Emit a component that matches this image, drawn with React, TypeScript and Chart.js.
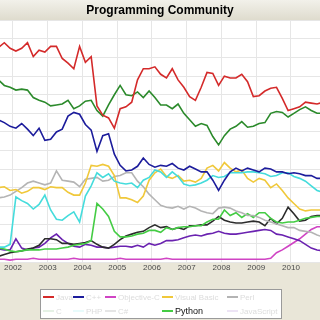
import React, { useEffect, useRef } from "react";
import { Chart, registerables } from "chart.js";

Chart.register(...registerables);

const dates = [
  "2001-08", "2001-10", "2001-12",
  "2002-02", "2002-04", "2002-06", "2002-08", "2002-10", "2002-12",
  "2003-02", "2003-04", "2003-06", "2003-08", "2003-10", "2003-12",
  "2004-02", "2004-04", "2004-06", "2004-08", "2004-10", "2004-12",
  "2005-02", "2005-04", "2005-06", "2005-08", "2005-10", "2005-12",
  "2006-02", "2006-04", "2006-06", "2006-08", "2006-10", "2006-12",
  "2007-02", "2007-04", "2007-06", "2007-08", "2007-10", "2007-12",
  "2008-02", "2008-04", "2008-06", "2008-08", "2008-10", "2008-12",
  "2009-02", "2009-04", "2009-06", "2009-08", "2009-10", "2009-12",
  "2010-02", "2010-04", "2010-06", "2010-08", "2010-10", "2010-12",
];

const years = [2002, 2003, 2004, 2005, 2006, 2007, 2008, 2009, 2010];

const java = [
  23.1, 23.6, 23.0, 22.7, 23.0, 23.6, 22.1, 22.8, 22.6,
  23.2, 23.2, 21.9, 21.4, 20.8, 23.2,
  21.5, 22.1, 16.8, 15.8, 15.5, 14.4,
  16.5, 16.7, 17.2, 19.6, 20.8, 20.8,
  21.0, 20.2, 19.8, 20.8, 19.6, 18.8,
  17.8, 17.4, 18.8, 20.4, 20.3, 19.0,
  20.0, 19.8, 19.8, 20.2, 19.4, 17.8,
  17.9, 18.4, 18.7, 18.8, 17.6, 16.3,
  16.5, 16.7, 17.2, 17.1, 17.0, 17.2,
];

const cLang = [
  19.6, 19.0, 18.8, 18.5, 18.6, 18.5, 17.7, 17.4, 17.2,
  16.8, 16.9, 17.0, 17.4, 16.5, 16.8,
  17.3, 17.4, 16.3, 15.7, 16.9, 18.0,
  19.0, 18.0, 17.9, 18.3, 17.7, 18.4,
  17.7, 16.9, 16.9, 16.5, 17.0, 16.0,
  15.3, 14.6, 14.9, 14.7, 13.5, 12.6,
  13.6, 14.3, 14.6, 15.1, 14.5, 14.6,
  14.9, 15.0, 16.0, 16.2, 16.1, 15.6,
  16.0, 16.4, 16.7, 16.3, 16.0, 16.0,
];

const cpp = [
  15.3, 15.0, 14.6, 14.4, 14.9, 14.3, 13.6, 14.4, 13.1,
  13.2, 14.0, 14.3, 15.7, 16.1, 15.9,
  14.8, 14.2, 11.9, 13.6, 13.8, 11.6,
  10.4, 9.8, 9.9, 10.3, 11.2, 10.5,
  10.2, 10.4, 10.3, 10.6, 10.1, 9.9,
  10.3, 10.0, 9.7, 9.7, 8.8, 7.7,
  8.8, 9.7, 10.1, 9.8, 10.1, 9.9,
  9.7, 10.1, 10.0, 9.7, 9.7, 9.5,
  9.6, 9.5, 9.3, 9.3, 9.0, 9.0,
];

const visualBasic = [
  8.0, 8.1, 7.7, 7.8, 7.4, 7.6, 8.0, 8.0, 7.8,
  8.1, 8.0, 8.0, 7.5, 7.2, 7.2,
  8.5, 10.4, 10.3, 10.5, 10.3, 9.3,
  6.9, 6.9, 6.7, 6.4, 7.1, 8.8,
  9.6, 10.0, 9.2, 9.0, 9.3, 8.7,
  8.8, 8.6, 9.0, 10.1, 10.4, 9.8,
  10.7, 10.1, 9.7, 9.9, 9.0, 8.6,
  9.0, 8.8, 8.0, 8.4, 7.7, 6.9,
  6.3, 5.7, 5.5, 5.6, 5.6, 5.6,
];

const perl = [
  6.9, 7.0, 7.2, 7.6, 8.0, 8.5, 8.7, 8.5, 8.3,
  8.5, 9.8, 8.8, 8.7, 8.6, 8.1,
  8.9, 9.0, 9.1, 8.7, 8.8, 9.2,
  9.3, 9.6, 9.6, 8.7, 8.1, 7.3,
  6.7, 6.1, 5.9, 5.8, 6.0, 5.7,
  6.0, 5.8, 5.5, 5.3, 5.2, 5.8,
  5.9, 5.8, 5.5, 5.3, 5.0, 5.0,
  4.8, 4.5, 4.3, 4.1, 3.9, 3.7,
  3.7, 3.4, 3.3, 3.2, 2.9, 2.7,
];

const php = [
  1.6, 1.6, 1.9, 7.0, 6.6, 6.3, 5.7, 6.2, 7.2,
  5.6, 4.6, 4.5, 5.0, 5.4, 4.3,
  7.1, 8.2, 9.6, 9.1, 9.5, 8.7,
  8.5, 8.4, 8.5, 8.0, 8.8, 9.1,
  9.9, 9.7, 9.1, 9.7, 9.2, 8.4,
  8.2, 8.3, 8.5, 8.8, 9.3, 9.1,
  9.2, 9.6, 9.6, 9.6, 9.7, 9.7,
  9.6, 9.5, 9.2, 9.3, 9.6, 9.6,
  9.2, 9.0, 8.7, 8.2, 7.7, 7.5,
];

const python = [
  1.5, 1.4, 1.2, 1.1, 1.2, 1.3, 1.3, 1.3, 1.4,
  1.4, 1.4, 1.5, 1.6, 1.8, 1.9,
  2.0, 2.3, 6.3, 5.7, 4.9, 3.3,
  2.7, 2.7, 2.8, 3.0, 3.1, 3.4,
  3.4, 3.2, 3.7, 3.5, 3.7, 3.8,
  3.8, 3.9, 3.9, 4.3, 4.6, 4.6,
  5.6, 5.0, 5.3, 4.8, 5.2, 4.8,
  5.3, 5.3, 4.7, 4.3, 4.2, 4.3,
  4.3, 4.5, 4.7, 4.8, 4.9, 4.9,
];

const csharp = [
  0.6, 0.8, 1.0, 1.1, 1.2, 1.4, 1.5, 1.8, 2.5,
  2.5, 2.4, 2.0, 2.0, 1.9, 2.0,
  2.1, 2.3, 1.9, 1.6, 1.5, 1.9,
  2.4, 2.8, 3.0, 3.2, 3.3, 3.7,
  4.0, 3.7, 3.8, 3.5, 3.7, 3.5,
  3.9, 3.9, 4.0, 4.0, 4.4, 4.9,
  4.5, 4.3, 4.2, 4.2, 4.3, 4.4,
  4.3, 3.9, 4.7, 4.1, 4.7, 5.9,
  5.2, 4.4, 4.5, 4.9, 5.0, 5.0,
];

const javascript = [
  1.4, 1.3, 1.3, 2.5, 1.5, 1.3, 1.5, 1.6, 2.0,
  2.6, 3.0, 2.4, 2.0, 1.7, 1.6,
  1.9, 1.8, 1.6, 1.6, 1.5, 1.6,
  1.7, 1.7, 1.6, 1.8, 1.6, 2.0,
  1.8, 2.0, 2.3, 2.3, 2.4, 2.6,
  2.8, 2.9, 2.8, 3.0, 3.1, 3.3,
  3.1, 3.0, 3.0, 3.1, 3.2, 3.3,
  3.4, 3.5, 3.4, 3.0, 2.9, 2.7,
  2.5, 2.3, 1.9, 1.5, 1.3, 1.2,
];

const objectiveC = [
  0.3, 0.3, 0.2, 0.3, 0.3, 0.3, 0.4, 0.3, 0.3,
  0.3, 0.3, 0.3, 0.3, 0.4, 0.3,
  0.3, 0.3, 0.3, 0.3, 0.3, 0.3,
  0.4, 0.3, 0.3, 0.3, 0.3, 0.3,
  0.3, 0.3, 0.4, 0.3, 0.3, 0.3,
  0.3, 0.3, 0.3, 0.3, 0.3, 0.3,
  0.3, 0.3, 0.3, 0.3, 0.3, 0.3,
  0.3, 0.3, 0.4, 1.0, 1.3, 1.7,
  2.1, 2.5, 3.0, 3.5, 3.8, 3.8,
];

const seriesNames = ["Java", "C", "C++", "PHP", "Visual Basic", "Perl", "Python", "C#", "JavaScript", "Objective-C"];
const seriesValues = [java, cLang, cpp, php, visualBasic, perl, python, csharp, javascript, objectiveC];
const seriesColors = ["#d42a2a", "#2b8a2b", "#1c1c9c", "#45dcdc", "#f0c83a", "#b4b4b4", "#44cc44", "#2c2c2c", "#6a22b0", "#d044c4"];

// legend grid: [row][col] -> series name
const legendRows = [
  ["Java", "C++", "Objective-C", "Visual Basic", "Perl"],
  ["C", "PHP", "C#", "Python", "JavaScript"],
];

const toYear = (s: string) => {
  const [y, m] = s.split("-").map(Number);
  return y + (m - 1) / 12;
};

const FONT = "'Liberation Sans', Arial, sans-serif";

const backgroundPlugin = {
  id: "bgPanels",
  beforeDraw(chart: any) {
    const { ctx, chartArea, width, height } = chart;
    ctx.save();
    ctx.fillStyle = "#e9e6d8";
    ctx.fillRect(0, 0, width, height);
    const g = ctx.createLinearGradient(0, 0, 0, chartArea.top);
    g.addColorStop(0, "#f2f1ea");
    g.addColorStop(1, "#dedbcd");
    ctx.fillStyle = g;
    ctx.fillRect(0, 0, width, chartArea.top);
    ctx.fillStyle = "#ffffff";
    ctx.fillRect(chartArea.left, chartArea.top, chartArea.right - chartArea.left, chartArea.bottom - chartArea.top);
    ctx.restore();
  },
};

const boxLegendPlugin = {
  id: "boxLegend",
  afterDraw(chart: any) {
    const { ctx } = chart;
    const colX = [43, 73, 105, 162, 227];
    const rowY = [297, 311];
    ctx.save();
    ctx.fillStyle = "#ffffff";
    ctx.fillRect(40.5, 289.5, 241, 29);
    ctx.strokeStyle = "#9a9a9a";
    ctx.lineWidth = 1;
    ctx.strokeRect(40.5, 289.5, 241, 29);
    ctx.textBaseline = "middle";
    legendRows.forEach((row, r) => {
      row.forEach((name, c) => {
        const idx = seriesNames.indexOf(name);
        const ds = chart.data.datasets[idx];
        const x = colX[c];
        const y = rowY[r];
        const strong = r === 0 || name === "Python";
        ctx.globalAlpha = strong ? 1 : 0.12;
        ctx.strokeStyle = ds.borderColor;
        ctx.lineWidth = 2;
        ctx.beginPath();
        ctx.moveTo(x, y);
        ctx.lineTo(x + 11, y);
        ctx.stroke();
        ctx.globalAlpha = 1;
        const isPy = name === "Python";
        ctx.fillStyle = isPy ? "#111111" : "#dcdcdc";
        ctx.font = (isPy ? "9px " : "8px ") + FONT;
        ctx.fillText(ds.label, x + 13, y + 0.5);
      });
    });
    ctx.restore();
  },
};

export default function App() {
  const ref = useRef<HTMLCanvasElement | null>(null);

  useEffect(() => {
    document.body.style.margin = "0";
    const canvas = ref.current;
    if (!canvas) return;
    const xs = dates.map(toYear);
    const chart = new Chart(canvas, {
      type: "line",
      data: {
        datasets: seriesNames.map((name, i) => ({
          label: name,
          data: seriesValues[i].map((v, k) => ({ x: xs[k], y: v })),
          borderColor: seriesColors[i],
          backgroundColor: seriesColors[i],
          borderWidth: 1.6,
          pointRadius: 0,
          tension: 0,
          fill: false,
        })),
      },
      options: {
        animation: false,
        responsive: false,
        devicePixelRatio: 1,
        layout: { padding: 0 },
        plugins: {
          legend: { display: false },
          tooltip: { enabled: false },
          title: {
            display: true,
            text: "Programming Community",
            color: "#000000",
            font: { family: FONT, size: 12, weight: "bold" },
            padding: { top: 3, bottom: 3 },
          },
        },
        scales: {
          x: {
            type: "linear",
            min: 2001.626,
            max: 2010.835,
            afterBuildTicks: (axis: any) => {
              axis.ticks = years.map((v) => ({ value: v }));
            },
            afterFit: (scale: any) => {
              scale.height = 58;
            },
            border: { display: false },
            grid: { color: "#e6e6e6", lineWidth: 1, drawTicks: false },
            ticks: {
              autoSkip: false,
              maxRotation: 0,
              padding: 1,
              color: "#4a4a4a",
              font: { family: FONT, size: 8 },
              callback: (v: any) => String(v),
            },
          },
          y: {
            min: 0,
            max: 26,
            afterFit: (scale: any) => {
              scale.width = 0;
            },
            border: { display: false },
            grid: { color: "#e6e6e6", lineWidth: 1, drawTicks: false },
            ticks: { display: false, stepSize: 2 },
          },
        },
      },
      plugins: [backgroundPlugin, boxLegendPlugin],
    });
    return () => chart.destroy();
  }, []);

  return (
    <div style={{ width: 320, height: 320 }}>
      <canvas ref={ref} width={320} height={320} style={{ display: "block" }} />
    </div>
  );
}
